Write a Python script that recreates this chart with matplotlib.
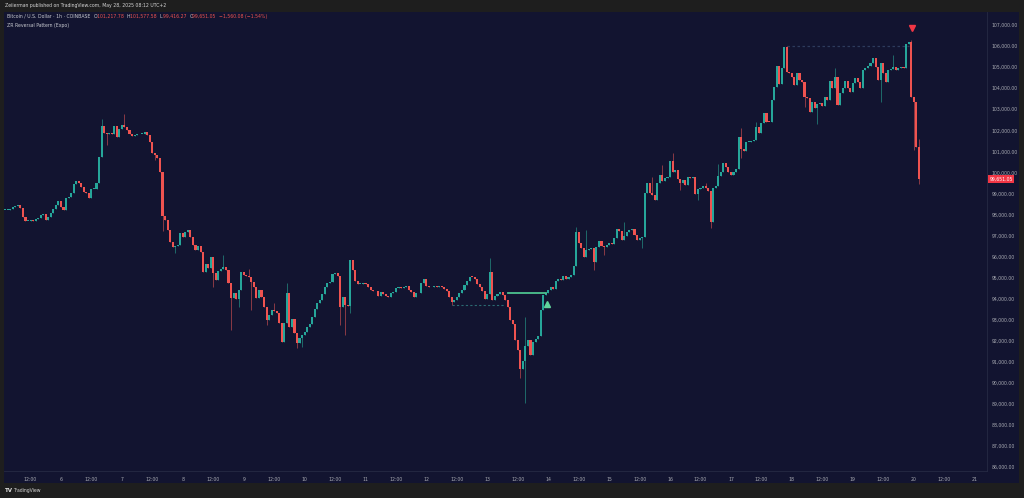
import numpy as np
import matplotlib
matplotlib.use('Agg')
import matplotlib.pyplot as plt
from matplotlib.patches import Rectangle
import matplotlib.transforms as mtransforms

# BTC/USD 1h closes (thousands of USD), first candle = May 5 02:00
closes = [
    98.21, 98.21, 98.24, 98.37, 98.41, 98.43, 98.29, 97.86, 97.68, 97.70,
    97.73, 97.70, 97.76, 97.80, 97.97, 98.02, 97.73, 97.86, 98.05, 98.24,
    98.45, 98.65, 98.37, 98.21, 98.76, 98.81, 99.00, 99.45, 99.60, 99.48,
    99.29, 99.05, 99.00, 98.76, 99.19, 99.22, 99.48, 100.75, 102.21, 101.89,
    101.83, 101.86, 101.83, 102.18, 101.70, 102.05, 102.27, 102.14, 101.99, 101.80,
    101.75, 101.76, 101.80, 101.81, 101.84, 101.92, 101.76, 101.46, 100.91, 100.84,
    100.67, 100.03, 97.92, 97.73, 97.26, 96.70, 96.46, 96.49, 96.53, 97.13,
    96.94, 97.18, 97.26, 96.91, 96.54, 96.30, 96.49, 96.22, 95.27, 95.64,
    95.43, 95.95, 95.19, 94.87, 95.32, 95.38, 95.51, 95.35, 94.75, 94.00,
    94.24, 93.95, 94.40, 95.27, 95.11, 95.07, 95.03, 94.80, 94.56, 94.00,
    94.40, 94.08, 93.60, 92.97, 93.21, 93.45, 93.38, 93.32, 92.81, 91.94,
    92.81, 94.24, 92.65, 93.00, 92.34, 91.89, 92.10, 92.26, 92.41, 92.62,
    92.78, 93.10, 93.47, 93.76, 93.92, 94.20, 94.52, 94.71, 94.79, 95.16,
    95.22, 95.06, 93.60, 94.08, 93.68, 93.63, 95.82, 95.35, 94.84, 94.68,
    94.68, 94.71, 94.68, 94.55, 94.42, 94.33, 94.33, 94.12, 94.30, 94.20,
    94.11, 94.08, 94.23, 94.31, 94.47, 94.55, 94.47, 94.55, 94.58, 94.39,
    94.31, 94.08, 94.23, 94.27, 94.71, 94.90, 94.58, 94.52, 94.55, 94.58,
    94.55, 94.58, 94.54, 94.46, 94.33, 94.08, 93.84, 93.92, 94.08, 94.23,
    94.42, 94.65, 94.84, 95.03, 95.00, 94.90, 94.68, 94.55, 94.36, 93.95,
    94.20, 95.27, 93.92, 94.11, 94.19, 94.30, 94.16, 93.90, 93.61, 92.97,
    92.78, 92.02, 91.54, 90.62, 91.03, 91.73, 92.02, 91.30, 91.94, 92.05,
    92.21, 93.45, 94.16, 94.27, 94.40, 94.53, 94.46, 94.84, 94.94, 94.88,
    95.07, 94.94, 95.03, 95.10, 95.54, 97.17, 96.62, 96.38, 95.98, 96.30,
    96.33, 96.39, 95.74, 96.46, 96.74, 96.49, 96.43, 96.52, 96.62, 96.57,
    96.85, 97.30, 97.20, 96.77, 96.98, 97.14, 97.25, 97.30, 97.01, 96.77,
    96.88, 96.93, 98.99, 99.47, 98.99, 98.92, 98.68, 99.47, 99.87, 99.58,
    99.71, 99.79, 100.53, 100.03, 100.11, 99.68, 99.47, 99.63, 99.39, 99.79,
    99.74, 99.79, 98.95, 99.20, 99.23, 99.36, 99.23, 99.11, 97.61, 99.26,
    99.36, 99.84, 100.03, 100.42, 100.26, 100.03, 99.87, 100.03, 100.15, 101.69,
    101.10, 101.01, 101.45, 101.45, 101.49, 101.54, 102.17, 101.85, 102.33, 102.80,
    102.41, 102.40, 103.44, 104.07, 105.07, 104.19, 104.95, 105.98, 104.79, 104.71,
    104.55, 104.16, 104.71, 104.39, 104.31, 103.60, 103.52, 102.85, 103.36, 103.04,
    103.23, 103.28, 103.17, 103.60, 103.44, 104.34, 104.03, 104.55, 103.20, 103.76,
    104.03, 104.34, 104.00, 103.84, 104.23, 104.47, 104.31, 104.03, 104.87, 104.98,
    105.04, 105.19, 105.42, 105.03, 104.39, 105.19, 104.71, 104.28, 104.87, 104.92,
    105.03, 104.87, 104.98, 105.00, 104.95, 106.09, 106.22, 103.60, 103.36, 101.22, 99.68,
]
first_open = 98.20
start_hour = -22   # hours relative to May 6 00:00
last_price = 99651.05

# visible wicks that stick out of the bodies
hi_idx = [38, 47, 86, 96, 106, 111, 191, 205, 225, 229, 244, 255, 259, 263, 276, 281,
          290, 296, 308, 327, 350, 357, 360]
hi_val = [102.52, 102.78, 96.06, 95.38, 93.80, 94.72, 95.90, 93.10, 97.38, 97.25, 97.65,
          99.79, 100.35, 100.90, 99.47, 100.40, 102.10, 102.41, 106.03, 104.95, 105.58,
          106.30, 101.58]
lo_idx = [40, 59, 62, 67, 82, 89, 92, 97, 103, 115, 117, 132, 134, 136, 176, 203, 205,
          232, 236, 251, 266, 273, 278, 290, 315, 320, 345, 358, 360]
lo_val = [101.30, 100.60, 97.20, 96.14, 94.56, 92.49, 93.60, 93.45, 92.73, 91.62, 91.70,
          92.73, 92.25, 93.28, 93.68, 90.19, 89.00, 95.35, 96.06, 96.41, 99.15, 98.68,
          97.33, 100.66, 103.12, 102.28, 103.36, 101.06, 99.42]

day_labels = [str(d) for d in range(6, 22)]
price_ticks = list(range(86, 108))

# legend line pieces: (text, is_value)
legend_parts = [('Bitcoin / U.S. Dollar · 1h · COINBASE  ', False),
                ('O', False), ('101,217.78  ', True),
                ('H', False), ('101,577.58  ', True),
                ('L', False), ('99,416.27  ', True),
                ('C', False), ('99,651.05  ', True),
                ('\u22121,560.08 (\u22121.54%)', True)]

FRAME = '#1e1e1e'
PANE = '#121430'
UP = '#26a69a'
DOWN = '#ef5350'
UP_WICK = '#1f6a6a'
DOWN_WICK = '#8a3a45'
TXT = '#a9abb3'

c = np.array(closes)
o = np.r_[first_open, c[:-1]]
hi = np.maximum(o, c)
lo = np.minimum(o, c)
for i, v in zip(hi_idx, hi_val):
    hi[i] = max(hi[i], v)
for i, v in zip(lo_idx, lo_val):
    lo[i] = min(lo[i], v)
hours = np.arange(len(c)) + start_hour
up = c >= o

fig = plt.figure(figsize=(10.24, 4.98), dpi=100, facecolor=FRAME)
W, H = 1024.0, 498.0
fig.patches.append(Rectangle((4 / W, 15 / H), 1015 / W, 471 / H, transform=fig.transFigure,
                             facecolor=PANE, edgecolor='none', zorder=-10))
ax = fig.add_axes([4 / W, 27 / H, 983 / W, 459 / H])
ax.set_facecolor(PANE)

# candles
ax.vlines(hours, lo, hi, colors=np.where(up, UP_WICK, DOWN_WICK), linewidth=0.7, zorder=2)
body = np.maximum(np.abs(c - o), 0.04)
ax.bar(hours, body, bottom=np.minimum(o, c), width=0.82,
       color=np.where(up, UP, DOWN), linewidth=0, zorder=3)

# reversal pattern drawings
ax.plot([286, 334], [106.03, 106.03], color='#2d3b5c', lw=0.9, ls=(0, (2, 2)), zorder=1)
ax.plot([154, 175], [93.68, 93.68], color='#2b6a72', lw=0.8, ls=(0, (2, 2)), zorder=1)
ax.plot([176, 191], [94.27, 94.27], color='#4cc28f', lw=1.3, zorder=4)
ax.plot([191.6], [93.73], marker='^', color='#5fd39c', markersize=5, zorder=5)
ax.plot([335.3], [106.85], marker='v', color='#f23645', markersize=5, zorder=5)

ax.set_xlim(-22.46, 364.9)
ax.set_ylim(85.78, 107.63)

xt = np.arange(-12, 361, 12)
xl = []
for h in xt:
    xl.append('12:00' if h % 24 else day_labels[h // 24])
ax.set_xticks(xt)
ax.set_xticklabels(xl)
ax.set_yticks(price_ticks)
ax.set_yticklabels([f'{p * 1000:,.2f}' for p in price_ticks])
ax.yaxis.tick_right()
ax.tick_params(axis='both', length=0, labelsize=3.3, colors=TXT)
ax.tick_params(axis='x', pad=4)
ax.tick_params(axis='y', pad=3.5)
for s in ['top', 'left']:
    ax.spines[s].set_visible(False)
for s in ['right', 'bottom']:
    ax.spines[s].set_color('#262a44')
    ax.spines[s].set_linewidth(0.6)

# last price tag
tr = mtransforms.blended_transform_factory(ax.transAxes, ax.transData)
ax.text(1.0025, c[-1], f'{last_price:,.2f}', transform=tr, fontsize=3.3, color='white',
        va='center', ha='left', clip_on=False,
        bbox=dict(boxstyle='square,pad=0.3', fc='#f23645', ec='none'))

# header texts
def ftext(x, y, s, **kw):
    return fig.text(x / W, 1 - y / H, s, va='center', ha='left', fontsize=3.3, **kw)

ftext(5, 6, 'Zeiierman published on TradingView.com, May 28, 2025 08:12 UTC+2', color='#d6d6d6')

# symbol line, laid out piece by piece
renderer = fig.canvas.get_renderer()
xpos = 7
for s, is_val in legend_parts:
    t = ftext(xpos, 16.5, s, color=DOWN if is_val else '#c8cad0')
    xpos += t.get_window_extent(renderer).width

ftext(7, 25, 'ZR Reversal Pattern (Expo)', color='#c8cad0')

# footer logo
fig.text(5 / W, 7.5 / H, 'TV', fontsize=4, fontweight='bold', color='#e0e0e0', va='center')
fig.text(13 / W, 7.5 / H, 'TradingView', fontsize=3.3, color='#d6d6d6', va='center')

fig.savefig('out.png', dpi=100, facecolor=FRAME)
